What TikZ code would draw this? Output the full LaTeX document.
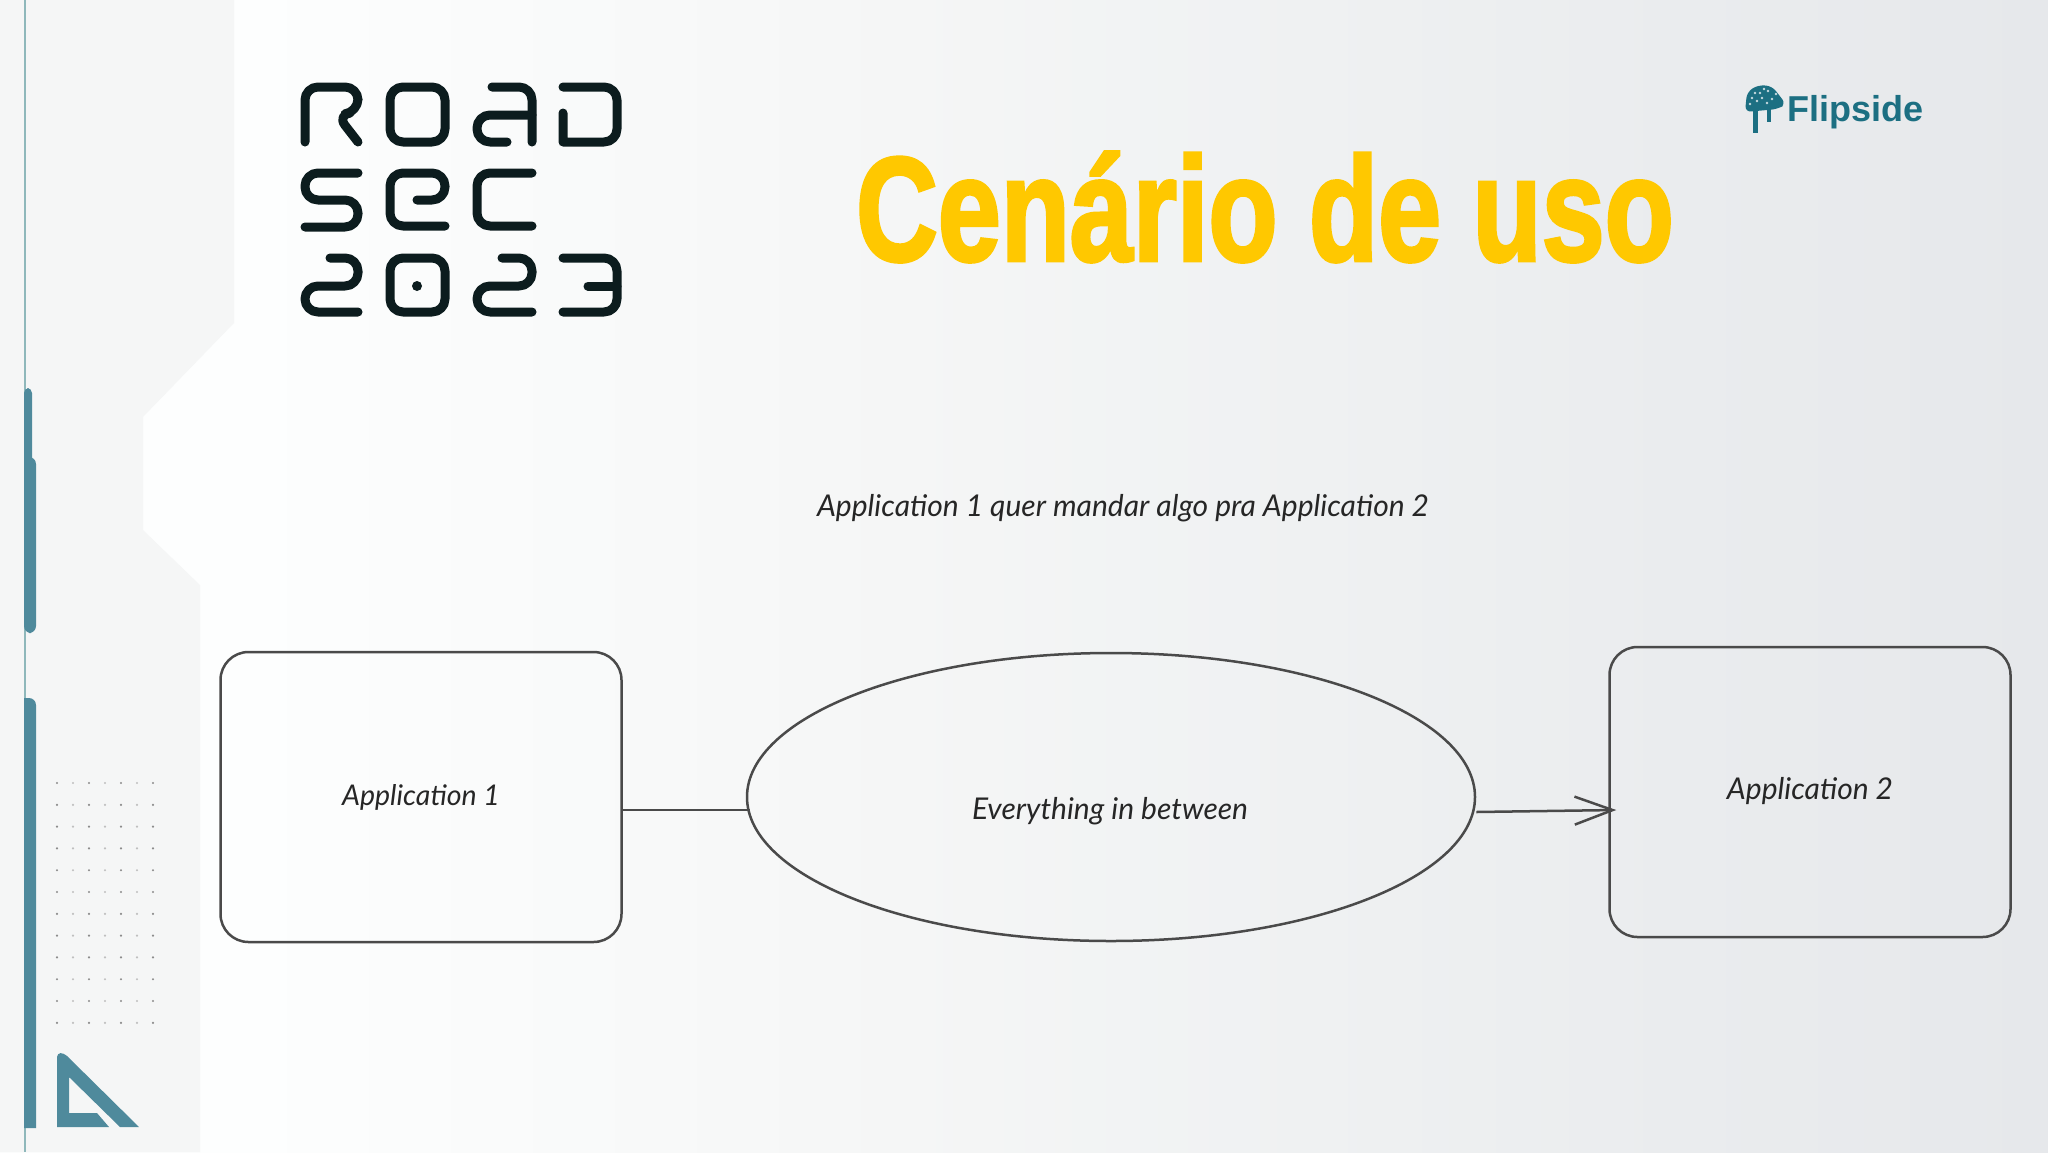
\documentclass[tikz,border=0pt]{standalone}
\usepackage{fontspec}
\usetikzlibrary{shapes.geometric,arrows.meta}
\setmainfont{Liberation Sans}
\newfontfamily\handfont{Lato}
\newfontfamily\titlefont[FakeBold=2.5]{Liberation Sans Bold}
\definecolor{barteal}{HTML}{4F8A9C}
\definecolor{thinteal}{HTML}{8FB8BB}
\definecolor{logoink}{HTML}{0C1C1E}
\definecolor{titleyellow}{HTML}{FFC800}
\definecolor{flipteal}{HTML}{1C6F82}
\definecolor{sketchink}{HTML}{4A4A4A}
\definecolor{panelgrey}{HTML}{F5F6F6}
\definecolor{bgone}{HTML}{FDFEFE}
\definecolor{bgtwo}{HTML}{F5F6F6}
\definecolor{bgthree}{HTML}{EFF1F2}
\definecolor{bgfour}{HTML}{EAECEE}
\definecolor{bgfive}{HTML}{E6E8EB}
\pgfdeclarehorizontalshading{slidebg}{100bp}{color(0bp)=(bgone); color(31bp)=(bgone); color(47bp)=(bgtwo); color(57bp)=(bgthree); color(66bp)=(bgfour); color(75bp)=(bgfive); color(100bp)=(bgfive)}
\tikzset{
    logostroke/.style={draw=logoink,line width=9pt,line cap=round,line join=round,rounded corners=13pt},
    sketchbox/.style={draw=sketchink,line width=2.5pt,rounded corners=28pt,minimum width=401pt,minimum height=290pt,inner sep=0pt},
    sketchoval/.style={ellipse,draw=sketchink,line width=2.5pt,minimum width=728pt,minimum height=288pt,inner sep=0pt},
    sketchtext/.style={font=\handfont\itshape\fontsize{30}{33}\selectfont,text=black!85},
    sketchline/.style={draw=sketchink,line width=2.5pt}
}
\begin{document}
\begin{tikzpicture}[x=1pt,y=-1pt]
        \useasboundingbox (0,0) rectangle (2048,1152);
        \shade[shading=slidebg] (0,0) rectangle (2048,1152);
        \fill[panelgrey] (0,0) -- (234,0) -- (234,323) -- (143,417) -- (143,530) -- (200,585) -- (200,1152) -- (0,1152) -- cycle;

        % left bars
        \draw[thinteal,line width=1.5pt] (25,0) -- (25,1152);
        \fill[barteal,rounded corners=5pt] (24,388) -- (32,388) -- (32,480) -- (24,480) -- cycle;
        \fill[barteal,rounded corners=7pt] (24,457) -- (36,457) -- (36,633) -- (24,633) -- cycle;
        \fill[barteal] (24,698) [rounded corners=7pt] -- (36,698) [sharp corners] -- (36,1128) -- (24,1128) -- cycle;

        % dots
        \foreach \row in {0,...,11}
            \foreach \col in {0,2,4,6}
                \fill[black!45] (57+16*\col,783+21.8*\row) circle (1.2pt);
        \foreach \row in {0,...,11}
            \foreach \col in {1,3,5}
                \fill[black!25] (57+16*\col,783+21.8*\row) circle (1.2pt);

        % corner mark
        \fill[barteal] (57,1127) [rounded corners=4pt] -- (57,1053) -- (64,1053) [sharp corners] -- (139,1127) -- (120,1127) -- (69,1077) -- (69,1113) -- (97,1113) -- (109,1127) -- cycle;

        % logo
        \draw[logostroke] (305,142) -- (305,87) -- (358,87) -- (358,112) -- (337,115) [sharp corners] -- (358,142);
        \draw[logostroke] (390,87) rectangle (445,142);
        \draw[logostroke] (492,87) -- (532,87) -- (532,142);
        \draw[logostroke] (532,115) -- (477,115) -- (477,142) -- (507,142);
        \draw[logostroke] (563,113) [sharp corners] -- (563,142) [rounded corners=13pt] -- (617,142) -- (617,87) -- (563,87);
        \draw[logostroke] (358,173) -- (305,173) -- (305,200) -- (358,200) -- (358,227) -- (305,227);
        \draw[logostroke] (445,226) -- (390,226) -- (390,173) -- (445,173) -- (445,200) -- (417,200);
        \draw[logostroke] (532,173) -- (477,173) -- (477,226) -- (532,226);
        \draw[logostroke] (330,258) -- (358,258) -- (358,286) -- (305,286) -- (305,312) -- (358,312);
        \draw[logostroke] (390,258) rectangle (445,312);
        \fill[logoink] (417,286) circle (5pt);
        \draw[logostroke] (502,258) -- (532,258) -- (532,286) -- (477,286) -- (477,312) -- (532,312);
        \draw[logostroke] (563,258) -- (617,258) -- (617,312) -- (563,312);
        \draw[logostroke] (588,286) -- (617,286);

        % title and brand
        \node[xscale=0.765,text=titleyellow,font=\titlefont\fontsize{148}{150}\selectfont] (title) at (1265,207) {Cenário de uso};
        \node[text=flipteal,font=\bfseries\fontsize{36}{38}\selectfont,inner sep=0pt] (brand) at (1855,112) {Flipside};
        \fill[flipteal,rounded corners=6pt] (1745,112) -- (1747,92) -- (1758,85) -- (1772,86) -- (1786,104) -- (1778,109) -- cycle;
        \fill[flipteal] (1753,105) rectangle (1758,133);
        \fill[flipteal] (1767,105) rectangle (1771,122);
        \foreach \spot in {(1755,93),(1762,98),(1768,91),(1757,101),(1772,99),(1764,89),(1752,98),(1760,93),(1767,103),(1750,104),(1776,94)}
            \fill[white!75!flipteal] \spot circle (1.4pt);

        % sketch
        \node[sketchtext] (caption) at (1123,508) {Application 1 quer mandar algo pra Application 2};
        \node[sketchbox] (app1) at (421,797) {};
        \node[sketchtext,font=\handfont\itshape\fontsize{28.5}{31}\selectfont] (app1text) at (421,797) {Application 1};
        \node[sketchoval] (between) at (1111,797) {};
        \node[sketchtext] (betweentext) at (1110,811) {Everything in between};
        \node[sketchbox] (app2) at (1810,792) {};
        \node[sketchtext] (app2text) at (1810,791) {Application 2};

        \draw[sketchline] ([yshift=-13pt]app1.east) -- ([shift={(4,13)}]between.west);
        \draw[sketchline,-{Straight Barb[length=38pt,width=28pt]}] ([yshift=-15pt]between.east) -- ([shift={(8,18)}]app2.west);
    \end{tikzpicture}
\end{document}
